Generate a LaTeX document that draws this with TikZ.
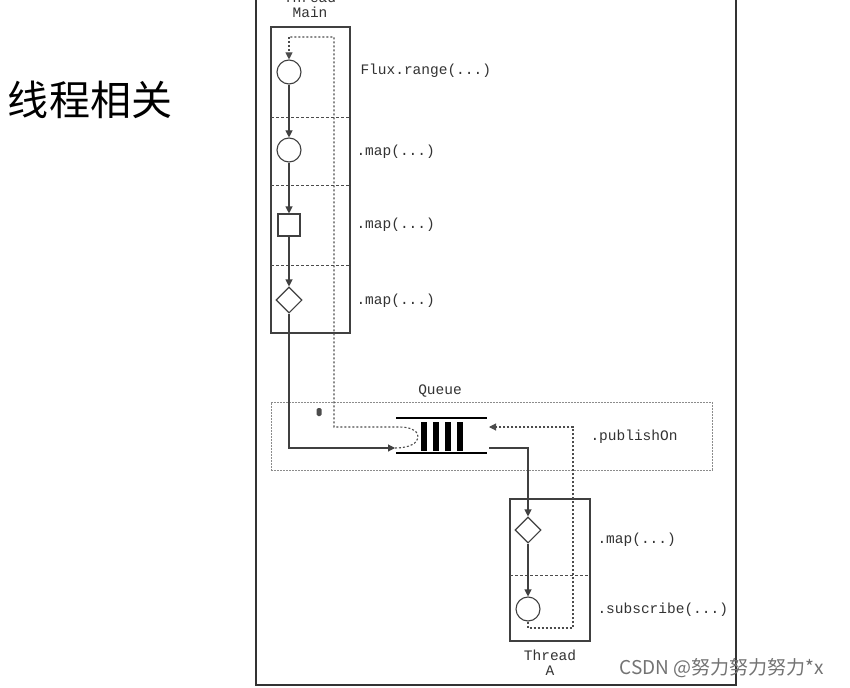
\documentclass[tikz,border=0pt]{standalone}
\usepackage{fontspec}
\setmonofont{Liberation Mono}
\newfontfamily\cjk{Noto Sans CJK SC}
\usetikzlibrary{arrows.meta,shapes.geometric}
\begin{document}
\begin{tikzpicture}[x=1pt,y=-1pt,
  lbl/.style={font=\ttfamily\fontsize{14.5}{15}\selectfont,anchor=west,text=black!80},
  box/.style={draw=black!75,line width=1.2pt},
  sep/.style={draw=black!70,dash pattern=on 3pt off 2pt,line width=0.9pt},
  req/.style={draw=black!70,dash pattern=on 2pt off 2pt,line width=1.1pt},
  flow/.style={draw=black!75,line width=1.1pt},
  tip/.style={-{Triangle[length=7pt,width=7pt]}},
  circ/.style={circle,draw=black!75,line width=1.1pt,minimum size=24pt,inner sep=0pt},
  sq/.style={rectangle,draw=black!75,line width=1.1pt,minimum size=22pt,inner sep=0pt},
  dia/.style={diamond,draw=black!75,line width=1.1pt,minimum size=26pt,inner sep=0pt},
  bar/.style={fill=black,minimum width=6pt,minimum height=29pt,inner sep=0pt}]
\useasboundingbox (0,0) rectangle (850,687);
\fill[white] (0,0) rectangle (850,687);
% outer frame
\draw[line width=1.6pt,black!80] (256,-5) -- (256,685) -- (736,685) -- (736,-5);
\node[font=\cjk\fontsize{41}{44}\selectfont] (title) at (90,100) {线程相关};
\node[lbl,anchor=center,align=center] (tm) at (310,5) {Thread\\Main};
% main box
\node[box,draw,minimum width=79pt,minimum height=306pt,inner sep=0pt] (mainbox) at (310.5,180) {};
\draw[sep] (271,117) -- (350,117);
\draw[sep] (271,185) -- (350,185);
\draw[sep] (271,265) -- (350,265);
\node[circ] (c1) at (289,72) {};
\node[circ] (c2) at (289,150) {};
\node[sq] (s3) at (289,225) {};
\node[dia] (d4) at (289,300) {};
\draw[flow,tip] (c1) -- (c2);
\draw[flow,tip] (c2) -- (s3);
\draw[flow,tip] (s3) -- (d4);
% queue area
\node[draw=black!45,dash pattern=on 2pt off 1pt,line width=0.9pt,minimum width=441pt,minimum height=68pt,inner sep=0pt] (qarea) at (491.5,436) {};
\node[lbl,anchor=center] (ql) at (440,391) {Queue};
\node[fill=black!70,minimum width=5pt,minimum height=8pt,inner sep=0pt,rounded corners=1.5pt] (lock) at (319,412) {};
\coordinate (qtl) at (396,418); \coordinate (qtr) at (487,418);
\coordinate (qbl) at (396,453); \coordinate (qbr) at (487,453);
\draw[line width=1.6pt] (qtl) -- (qtr);
\draw[line width=1.6pt] (qbl) -- (qbr);
\node[bar] (b1) at (424,436) {};
\node[bar] (b2) at (436,436) {};
\node[bar] (b3) at (448,436) {};
\node[bar] (b4) at (460,436) {};
\coordinate (qin) at (395,448);
\coordinate (qreqin) at (400,427);
\coordinate (qout) at (489,448);
\coordinate (qreqout) at (489,427);
% solid from main to queue
\draw[flow,tip] (d4.south) |- (qin);
% request path dotted
\draw[req] (qin) .. controls (425,448) and (425,427) .. (qreqin) -- (334,427) -- (334,37) -- (289,37);
\draw[req,tip] (289,37) -- (c1.north);
% thread A
\node[box,draw,minimum width=80pt,minimum height=142pt,inner sep=0pt] (abox) at (550,570) {};
\draw[sep] (510,575) -- (590,575);
\node[dia] (d5) at (528,530) {};
\node[circ] (c6) at (528,609) {};
\draw[flow,tip] (qout) -| (d5.north);
\draw[flow,tip] (d5) -- (c6);
\draw[req,tip] (c6.south) |- (573,628) -- (573,427) -- (qreqout);
% labels
\node[lbl] (l1) at (357,71) {Flux.range(...)};
\node[lbl] (l2) at (353,152) {.map(...)};
\node[lbl] (l3) at (353,225) {.map(...)};
\node[lbl] (l4) at (353,301) {.map(...)};
\node[lbl] (l5) at (587,437) {.publishOn};
\node[lbl] (l6) at (594,540) {.map(...)};
\node[lbl] (l7) at (594,610) {.subscribe(...)};
\node[lbl,anchor=center,align=center] (ta) at (550,663) {Thread\\A};
\node[font=\cjk\fontsize{19}{20}\selectfont,text=black!55,anchor=west] (wm) at (616,668) {CSDN @努力努力努力*x};
\end{tikzpicture}
\end{document}
